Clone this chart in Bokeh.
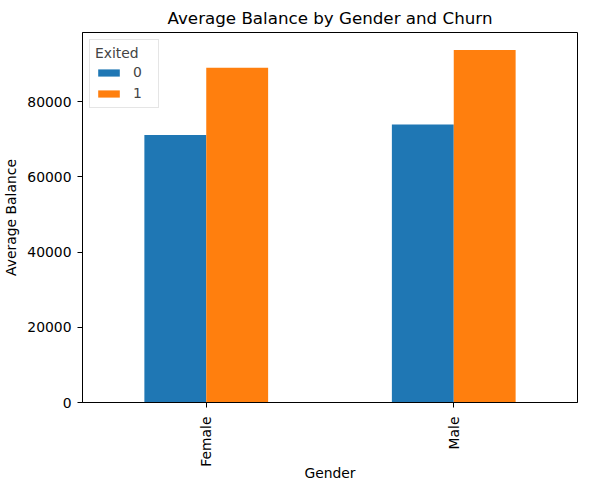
import math
from bokeh.plotting import figure
from bokeh.models import ColumnDataSource, FactorRange, Range1d, SingleIntervalTicker
from bokeh.transform import dodge
from bokeh.embed import file_html
from bokeh.resources import INLINE

genders = ["Female", "Male"]
exited_0 = [71183, 73947]
exited_1 = [89036, 93736]
y_max = 98423

FONT = "DejaVu Sans"
C0 = "#1f77b4"
C1 = "#ff7f0e"

src = ColumnDataSource(data=dict(gender=genders, e0=exited_0, e1=exited_1))

p = figure(frame_width=495, frame_height=370, output_backend="svg", toolbar_location=None,
           x_range=FactorRange(*genders), y_range=Range1d(0, y_max),
           title="Average Balance by Gender and Churn",
           min_border_left=76, min_border_right=2, min_border_top=24, min_border_bottom=0)

p.vbar(x=dodge("gender", -0.125, range=p.x_range), top="e0", width=0.25, source=src,
       color=C0, line_color=None, legend_label="0")
p.vbar(x=dodge("gender", 0.125, range=p.x_range), top="e1", width=0.25, source=src,
       color=C1, line_color=None, legend_label="1")

p.title.align = "center"
p.title.text_font = FONT
p.title.text_font_size = "16.7px"
p.title.text_font_style = "normal"
p.title.text_color = "black"

p.xgrid.visible = False
p.ygrid.visible = False
p.outline_line_color = "black"
p.outline_line_width = 1
p.background_fill_color = "white"
p.border_fill_color = "white"

p.yaxis.ticker = SingleIntervalTicker(interval=20000)
for ax in (p.xaxis[0], p.yaxis[0]):
    ax.axis_line_color = "black"
    ax.major_tick_line_color = "black"
    ax.major_tick_out = 5
    ax.major_tick_in = 0
    ax.minor_tick_line_color = None
    ax.major_label_text_font = FONT
    ax.major_label_text_font_size = "13.9px"
    ax.major_label_text_color = "black"
    ax.axis_label_text_font = FONT
    ax.axis_label_text_font_size = "13.9px"
    ax.axis_label_text_font_style = "normal"
    ax.axis_label_text_color = "black"
    ax.major_label_standoff = 6

p.xaxis.axis_label = "Gender"
p.yaxis.axis_label = "Average Balance"
p.xaxis.major_label_orientation = math.pi / 2
p.xaxis.major_label_standoff = 9
p.xaxis.axis_label_standoff = -5
p.xaxis.group_text_font_size = "0px"

lg = p.legend[0]
lg.location = "top_left"
lg.title = "Exited"
lg.title_text_font = FONT
lg.title_text_font_size = "13.9px"
lg.title_text_font_style = "normal"
lg.title_standoff = 2
lg.label_text_font = FONT
lg.label_text_font_size = "13.9px"
lg.glyph_width = 27
lg.glyph_height = 9
lg.label_height = 18
lg.label_standoff = 11
lg.spacing = 3
lg.padding = 5
lg.margin = 7
lg.border_line_color = "#cccccc"
lg.background_fill_alpha = 0.8

open("out.html", "w").write(file_html(p, INLINE))
